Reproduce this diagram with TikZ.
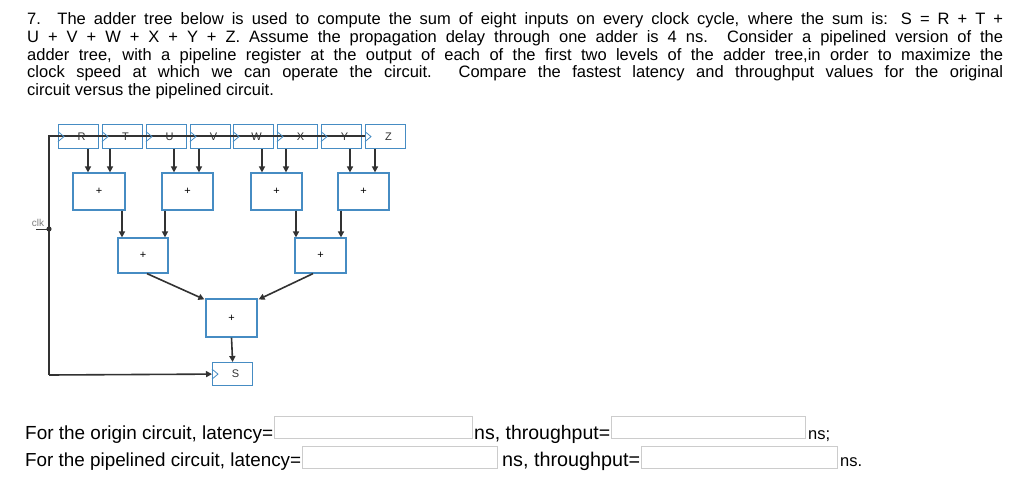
\documentclass[tikz,border=0pt]{standalone}
\usepackage{fontspec}
\setmainfont{Liberation Sans}
\usetikzlibrary{arrows.meta}
\definecolor{bx}{RGB}{70,140,195}
\definecolor{ln}{RGB}{50,50,50}
\begin{document}
\begin{tikzpicture}[x=1pt,y=-1pt,
  reg/.style={draw=bx,line width=1.2pt,fill=white,anchor=north west,inner sep=0pt},
  add/.style={draw=bx,line width=1.2pt,fill=white,inner sep=0pt,font=\fontsize{11}{11}\selectfont},
  wire/.style={draw=ln,line width=1.6pt,-{Triangle[length=6pt,width=6pt]}},
  fld/.style={draw=black!20,line width=0.6pt,fill=white},
  tl/.style={anchor=base west,inner sep=0pt,font=\fontsize{16.5}{18}\selectfont},
  bl/.style={anchor=base west,inner sep=0pt,font=\fontsize{15}{16}\selectfont}]
\useasboundingbox (0,0) rectangle (1024,495);
\fill[white] (0,0) rectangle (1024,495);
% question text
\node[tl] (l1) at (27,25) {\makebox[976pt][s]{7. The adder tree below is used to compute the sum of eight inputs on every clock cycle, where the sum is: S = R + T +}};
\node[tl] (l2) at (27,42.5) {\makebox[976pt][s]{U + V + W + X + Y + Z. Assume the propagation delay through one adder is 4 ns. Consider a pipelined version of the}};
\node[tl] (l3) at (27,60) {\makebox[976pt][s]{adder tree, with a pipeline register at the output of each of the first two levels of the adder tree,in order to maximize the}};
\node[tl] (l4) at (27,77.5) {\makebox[976pt][s]{clock speed at which we can operate the circuit. Compare the fastest latency and throughput values for the original}};
\node[tl] (l5) at (27,95) {circuit versus the pipelined circuit.};
% registers
\foreach \n/\x in {R/58,T/102,U/146,V/190,W/233,X/277,Y/321,Z/365}{
  \node[reg,minimum width=40pt,minimum height=24pt] (\n) at (\x,124) {};
}
% clock
\coordinate (ck0) at (49,136);
\coordinate (ck1) at (49,375);
\coordinate (ckd) at (49,229);
\coordinate (ckl) at (36,229);
\draw[ln,line width=1.4pt] (Z.west|-ck0) -- (ck0) -- (ck1);
\draw[ln,line width=1pt] (ckl) -- (ckd);
\fill[ln] (ckd) circle (2.6pt);
\node[font=\fontsize{10}{10}\selectfont,text=gray,anchor=base] (clk) at (38,226) {clk};
% register labels & clock triangles
\foreach \n in {R,T,U,V,W,X,Y,Z}{
  \draw[bx,line width=0.8pt] ([yshift=-5pt]\n.west) -- ++(6pt,5pt) -- ++(-6pt,5pt);
  \node[font=\fontsize{11}{11}\selectfont,text=ln] at ([xshift=3pt]\n.center) {\n};
}
% adders
\node[add,minimum width=52pt,minimum height=37pt] (a1) at (99,191.5) {+};
\node[add,minimum width=51pt,minimum height=37pt] (a2) at (187.5,191.5) {+};
\node[add,minimum width=51pt,minimum height=37pt] (a3) at (276.5,191.5) {+};
\node[add,minimum width=51pt,minimum height=37pt] (a4) at (363.5,191.5) {+};
\node[add,minimum width=50pt,minimum height=35pt] (b1) at (143,255.5) {+};
\node[add,minimum width=51pt,minimum height=35pt] (b2) at (320.5,255.5) {+};
\node[add,minimum width=51pt,minimum height=38pt] (c1) at (231.5,318) {+};
\node[reg,minimum width=40pt,minimum height=23pt] (S) at (212,362) {};
\draw[bx,line width=0.8pt] ([yshift=-5pt]S.west) -- ++(6pt,5pt) -- ++(-6pt,5pt);
\node[font=\fontsize{11}{11}\selectfont,text=ln] at ([xshift=3pt]S.center) {S};
\draw[wire] (ck1) -- (S.west);
% wires level 1
\draw[wire] (R.south-|88,0) -- (a1.north-|88,0);
\draw[wire] (T.south-|110,0) -- (a1.north-|110,0);
\draw[wire] (U.south-|174,0) -- (a2.north-|174,0);
\draw[wire] (V.south-|199,0) -- (a2.north-|199,0);
\draw[wire] (W.south-|262,0) -- (a3.north-|262,0);
\draw[wire] (X.south-|286,0) -- (a3.north-|286,0);
\draw[wire] (Y.south-|350,0) -- (a4.north-|350,0);
\draw[wire] (Z.south-|375,0) -- (a4.north-|375,0);
% level 2
\draw[wire] (a1.south-|122,0) -- (b1.north-|122,0);
\draw[wire] (a2.south-|165,0) -- (b1.north-|165,0);
\draw[wire] (a3.south-|296,0) -- (b2.north-|296,0);
\draw[wire] (a4.south-|341,0) -- (b2.north-|341,0);
% level 3
\draw[wire] (b1.south-|147,0) -- ([xshift=-1pt,yshift=-1pt]c1.north west);
\draw[wire] (b2.south-|313,0) -- ([xshift=1pt,yshift=-1pt]c1.north east);
\draw[wire] (c1.south) -- (S.north);
% answer lines
\node[bl] (t1) at (25,439) {\resizebox{248pt}{!}{For the origin circuit, latency=}};
\draw[fld] (274,416) rectangle (472,438);
\node[bl] (t2) at (474,439) {\resizebox{136pt}{!}{ns, throughput=}};
\draw[fld] (611,416) rectangle (805,438);
\node[bl] (t3) at (808,439) {\resizebox{22pt}{!}{ns;}};
\node[bl] (t4) at (25,466) {\resizebox{276pt}{!}{For the pipelined circuit, latency=}};
\draw[fld] (302,446) rectangle (497,468);
\node[bl] (t5) at (502,466) {\resizebox{138pt}{!}{ns, throughput=}};
\draw[fld] (641,446) rectangle (837,468);
\node[bl] (t6) at (840,466) {\resizebox{22pt}{!}{ns.}};
\end{tikzpicture}
\end{document}
